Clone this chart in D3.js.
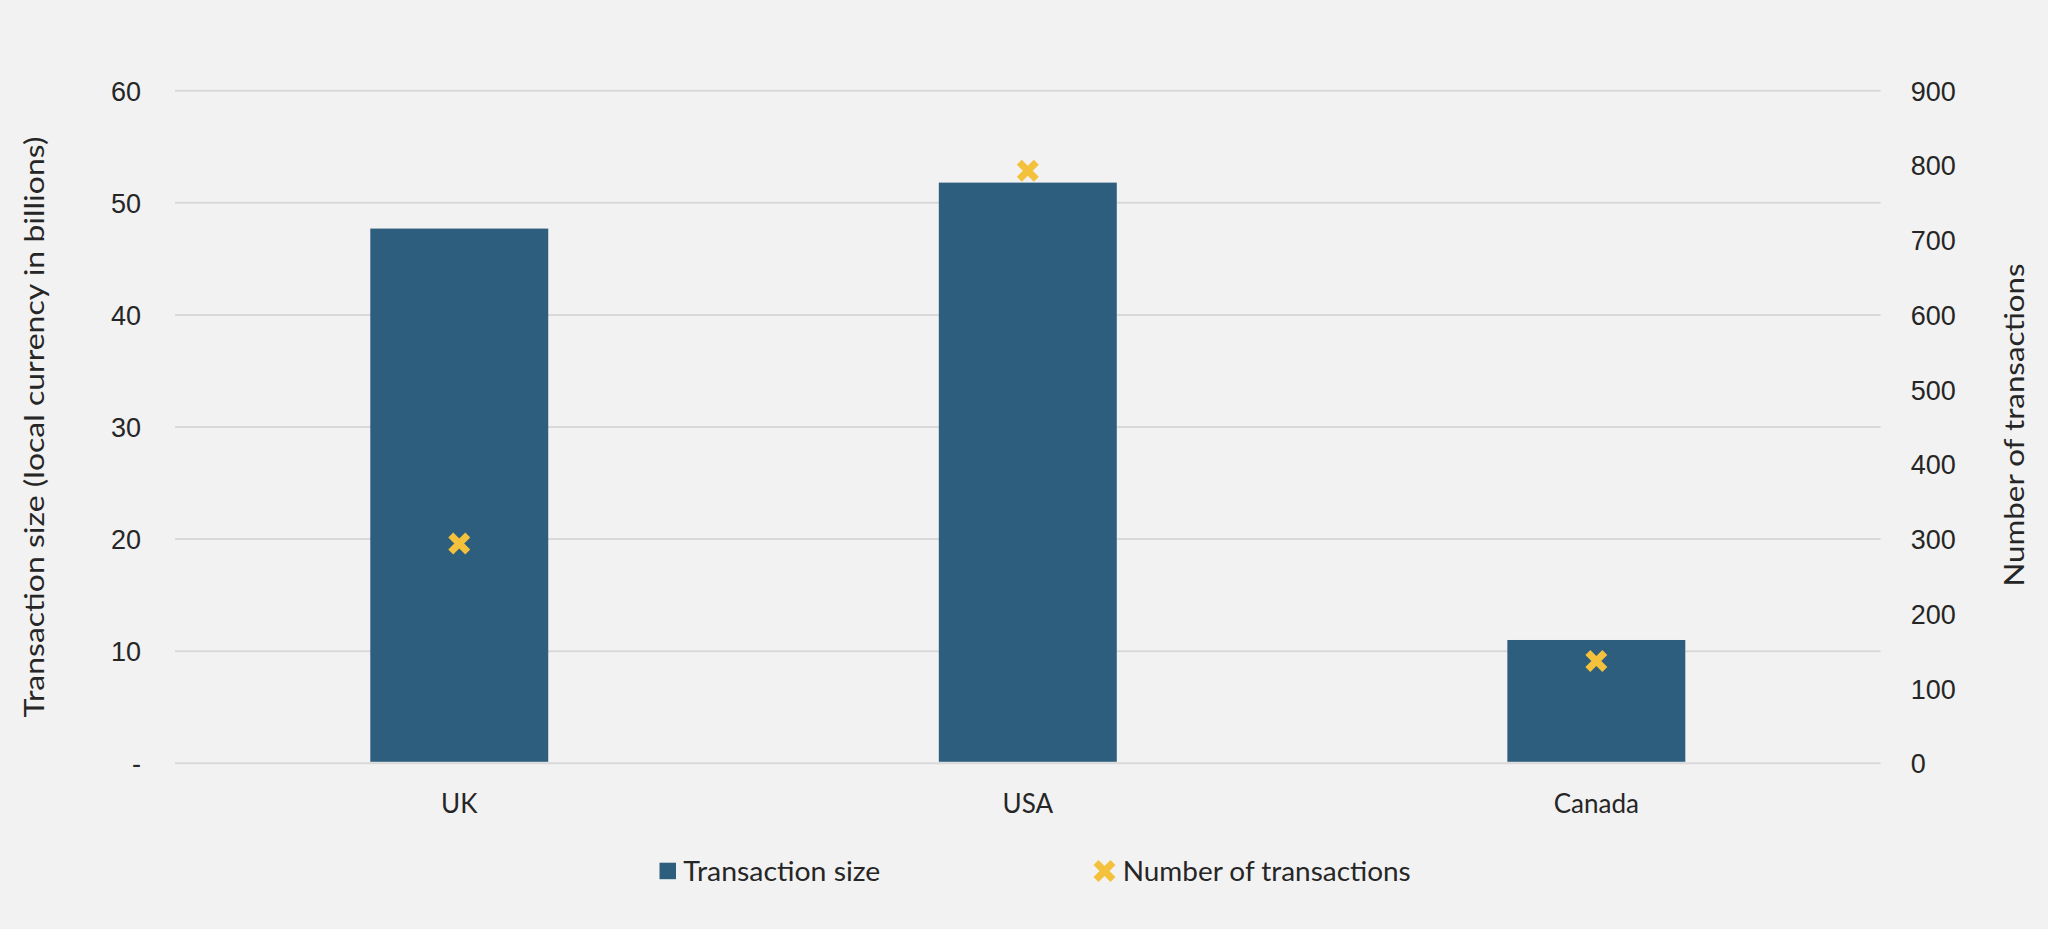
<!DOCTYPE html>
<html>
<head>
<meta charset="utf-8">
<script src="https://cdn.jsdelivr.net/npm/d3@7"></script>
<style>
  html, body { margin: 0; padding: 0; background: #f2f2f2; }
  svg { display: block; }
</style>
</head>
<body>
<svg id="chart" width="2048" height="929"></svg>
<script>
// ---- data ----
const categories = ["UK", "USA", "Canada"];
const transactionSize = [47.7, 51.8, 11.0];
const numberOfTransactions = [294, 793, 137];
const leftTicks = [0, 10, 20, 30, 40, 50, 60];
const leftTickLabels = ["-", "10", "20", "30", "40", "50", "60"];
const rightTicks = [0, 100, 200, 300, 400, 500, 600, 700, 800, 900];
const seriesNames = ["Transaction size", "Number of transactions"];
const leftTitle = "Transaction size (local currency in billions)";
const rightTitle = "Number of transactions";

// ---- layout ----
const W = 2048, H = 929;
const plot = { left: 175, right: 1880.6, top: 90.7, bottom: 763.3 };
const barColor = "#2e5e7e";
const markColor = "#f4c13c";
const gridColor = "#d9d9d9";
const textColor = "#262626";
const numFont = "'Liberation Sans', Arial, sans-serif";
const txtFont = "Lato, 'Open Sans', sans-serif";

const svg = d3.select("#chart");
svg.append("rect").attr("width", W).attr("height", H).attr("fill", "#f2f2f2");

const x = d3.scaleBand().domain(categories).range([plot.left, plot.right]).padding(0);
const yL = d3.scaleLinear().domain([0, 60]).range([plot.bottom, plot.top]);
const yR = d3.scaleLinear().domain([0, 900]).range([plot.bottom, plot.top]);

// gridlines
svg.append("g").selectAll("line").data(leftTicks).join("line")
  .attr("x1", plot.left).attr("x2", plot.right)
  .attr("y1", d => yL(d)).attr("y2", d => yL(d))
  .attr("stroke", gridColor).attr("stroke-width", 2);

// left axis
const leftAxis = d3.axisLeft(yL).tickValues(leftTicks)
  .tickFormat((d, i) => leftTickLabels[i]).tickSize(0).tickPadding(0);
const gL = svg.append("g").attr("transform", `translate(141,0)`).call(leftAxis);
gL.select(".domain").remove();
gL.selectAll("text").attr("font-family", numFont).attr("font-size", 27)
  .attr("fill", textColor).attr("dy", "0.35em");

// right axis
const rightAxis = d3.axisRight(yR).tickValues(rightTicks).tickSize(0).tickPadding(0)
  .tickFormat(d3.format("d"));
const gR = svg.append("g").attr("transform", `translate(1910.7,0)`).call(rightAxis);
gR.select(".domain").remove();
gR.selectAll("text").attr("font-family", numFont).attr("font-size", 27)
  .attr("fill", textColor).attr("dy", "0.35em");

// bars
const barW = x.bandwidth() * 0.313;
svg.append("g").selectAll("rect").data(categories).join("rect")
  .attr("x", d => x(d) + x.bandwidth() / 2 - barW / 2)
  .attr("width", barW)
  .attr("y", (d, i) => yL(transactionSize[i]))
  .attr("height", (d, i) => yL(0) - yL(transactionSize[i]) - 1.5)
  .attr("fill", barColor);

// X marker path
function xPath(r) {
  const p = d3.path();
  p.moveTo(-r, -r); p.lineTo(r, r);
  p.moveTo(-r, r); p.lineTo(r, -r);
  return p.toString();
}
svg.append("g").selectAll("path").data(categories).join("path")
  .attr("transform", (d, i) => `translate(${x(d) + x.bandwidth() / 2},${yR(numberOfTransactions[i])})`)
  .attr("d", xPath(8.5))
  .attr("stroke", markColor).attr("stroke-width", 7).attr("fill", "none");

// category labels
const xAxis = d3.axisBottom(x).tickSize(0).tickPadding(0);
const gX = svg.append("g").attr("transform", `translate(0,812.5)`).call(xAxis);
gX.select(".domain").remove();
gX.selectAll("text").attr("font-family", txtFont).attr("font-size", 26)
  .attr("fill", textColor).attr("dy", 0);

// axis titles
svg.append("text")
  .attr("transform", "translate(44,427) rotate(-90)")
  .attr("text-anchor", "middle")
  .attr("font-family", txtFont).attr("font-size", 26).attr("fill", textColor)
  .attr("textLength", 581).attr("lengthAdjust", "spacingAndGlyphs")
  .text(leftTitle);

svg.append("text")
  .attr("transform", "translate(2024,425) rotate(-90)")
  .attr("text-anchor", "middle")
  .attr("font-family", txtFont).attr("font-size", 27).attr("fill", textColor)
  .attr("textLength", 323).attr("lengthAdjust", "spacingAndGlyphs")
  .text(rightTitle);

// legend
const leg = svg.append("g");
leg.append("rect").attr("x", 659.5).attr("y", 862.7).attr("width", 16.5).attr("height", 16.5)
  .attr("fill", barColor);
leg.append("text").attr("x", 683.3).attr("y", 880.7)
  .attr("font-family", txtFont).attr("font-size", 26).attr("fill", textColor)
  .attr("textLength", 197).attr("lengthAdjust", "spacingAndGlyphs")
  .text(seriesNames[0]);
leg.append("path").attr("transform", "translate(1104.5,871)")
  .attr("d", xPath(8.5))
  .attr("stroke", markColor).attr("stroke-width", 7).attr("fill", "none");
leg.append("text").attr("x", 1122.7).attr("y", 880.7)
  .attr("font-family", txtFont).attr("font-size", 26).attr("fill", textColor)
  .attr("textLength", 288).attr("lengthAdjust", "spacingAndGlyphs")
  .text(seriesNames[1]);
</script>
</body>
</html>
